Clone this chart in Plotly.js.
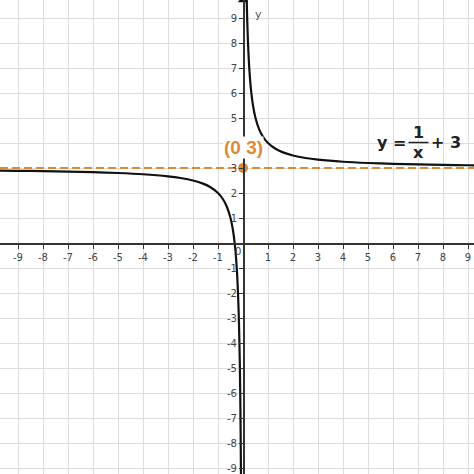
<!DOCTYPE html>
<html>
<head>
<meta charset="utf-8">
<script src="https://cdn.plot.ly/plotly-3.0.1.min.js"></script>
<style>
  html, body { margin: 0; padding: 0; background: #fff; }
  #graph { width: 474px; height: 474px; }
</style>
</head>
<body>
<div id="graph"></div>
<script>
// left branch of y = 1/x + 3
const leftX = [-9.72, -9, -8, -7, -6, -5, -4, -3, -2.5, -2, -1.6, -1.3, -1, -0.8, -0.65, -0.5, -0.4, -0.33, -0.28, -0.24, -0.2, -0.17, -0.15, -0.13, -0.115, -0.1, -0.09, -0.08];
const leftY = [2.897, 2.889, 2.875, 2.857, 2.833, 2.8, 2.75, 2.667, 2.6, 2.5, 2.375, 2.231, 2, 1.75, 1.462, 1, 0.5, -0.03, -0.571, -1.167, -2, -2.882, -3.667, -4.692, -5.696, -7, -8.111, -9.5];
// right branch
const rightX = [0.09, 0.1, 0.115, 0.13, 0.15, 0.17, 0.2, 0.24, 0.28, 0.33, 0.4, 0.5, 0.65, 0.8, 1, 1.3, 1.6, 2, 2.5, 3, 4, 5, 6, 7, 8, 9, 9.3];
const rightY = [14.11, 13, 11.7, 10.69, 9.667, 8.882, 8, 7.167, 6.571, 6.03, 5.5, 5, 4.538, 4.25, 4, 3.769, 3.625, 3.5, 3.4, 3.333, 3.25, 3.2, 3.167, 3.143, 3.125, 3.111, 3.108];

const asymptoteY = 3;
const pointX = [0];
const pointY = [3];

const tickVals = [-9, -8, -7, -6, -5, -4, -3, -2, -1, 1, 2, 3, 4, 5, 6, 7, 8, 9];
const tickText = ['-9', '-8', '-7', '-6', '-5', '-4', '-3', '-2', '-1', '1', '2', '3', '4', '5', '6', '7', '8', '9'];

const xRange = [-9.72, 9.24];
const yRange = [-9.24, 9.72];

const orange = '#dc8a3a';
const ink = '#111111';

const asymptote = {
    x: xRange, y: [asymptoteY, asymptoteY],
    mode: 'lines',
    line: {color: orange, width: 2, dash: '8px,4px'},
    hoverinfo: 'skip'
};
const curveLeft = {
    x: leftX, y: leftY,
    mode: 'lines',
    line: {color: ink, width: 2.2, shape: 'spline', smoothing: 0.6},
    hoverinfo: 'skip'
};
const curveRight = {
    x: rightX, y: rightY,
    mode: 'lines',
    line: {color: ink, width: 2.2, shape: 'spline', smoothing: 0.6},
    hoverinfo: 'skip'
};
const point = {
    x: pointX, y: pointY,
    mode: 'markers',
    marker: {color: orange, size: 10},
    hoverinfo: 'skip'
};
// little arrow head on top of the y axis
const arrowTip = {
    x: [0], y: [yRange[1]],
    mode: 'markers',
    marker: {color: '#111', size: 9, symbol: 'triangle-up'},
    cliponaxis: false,
    hoverinfo: 'skip'
};

// where zero sits inside each axis, for the crossing axes
const xZero = (0 - xRange[0]) / (xRange[1] - xRange[0]);
const yZero = (0 - yRange[0]) / (yRange[1] - yRange[0]);

const tickFont = {family: 'DejaVu Sans', size: 10, color: '#444'};
const mathFont = {family: 'DejaVu Sans', size: 16, color: '#222'};

const axisCommon = {
    tickvals: tickVals,
    ticktext: tickText,
    ticks: 'outside',
    ticklen: 4,
    tickwidth: 1,
    tickcolor: '#333',
    tickfont: tickFont,
    showgrid: true,
    gridcolor: '#dddddd',
    gridwidth: 1,
    zeroline: false,
    showline: true,
    linecolor: '#333',
    linewidth: 1.5,
    anchor: 'free',
    automargin: false,
    fixedrange: true
};

const layout = {
    width: 474,
    height: 474,
    margin: {l: 0, r: 0, t: 0, b: 0},
    paper_bgcolor: '#fff',
    plot_bgcolor: '#fff',
    showlegend: false,
    xaxis: Object.assign({}, axisCommon, {range: xRange, position: yZero}),
    yaxis: Object.assign({}, axisCommon, {range: yRange, position: xZero}),
    shapes: [
        {type: 'line', xref: 'x', yref: 'y', x0: 6.62, x1: 7.42, y0: 4.02, y1: 4.02,
         line: {color: '#222', width: 1.5}}
    ],
    annotations: [
        {x: 0, y: 3, text: '<b>(0 3)</b>', showarrow: false, yshift: 21, xshift: 0,
         bgcolor: '#fff', borderpad: 0,
         font: {family: 'Liberation Sans', size: 19, color: orange}},
        {x: 0, y: 0, text: '0', showarrow: false, xshift: -5, yshift: -8, font: tickFont},
        {x: 0, y: 1, yref: 'paper', text: 'y', showarrow: false, xshift: 15, yshift: -6,
         font: {family: 'DejaVu Sans', size: 11, color: '#555'}},
        {x: 5.92, y: 4.02, text: '<b>y =</b>', showarrow: false, font: mathFont},
        {x: 7.02, y: 4.42, text: '<b>1</b>', showarrow: false, font: mathFont},
        {x: 7.02, y: 3.64, text: '<b>x</b>', showarrow: false, font: mathFont},
        {x: 8.1, y: 4.02, text: '<b>+ 3</b>', showarrow: false, font: mathFont}
    ]
};

const config = {displayModeBar: false, staticPlot: true};

Plotly.newPlot('graph', [asymptote, curveLeft, curveRight, point, arrowTip], layout, config);
</script>
</body>
</html>
